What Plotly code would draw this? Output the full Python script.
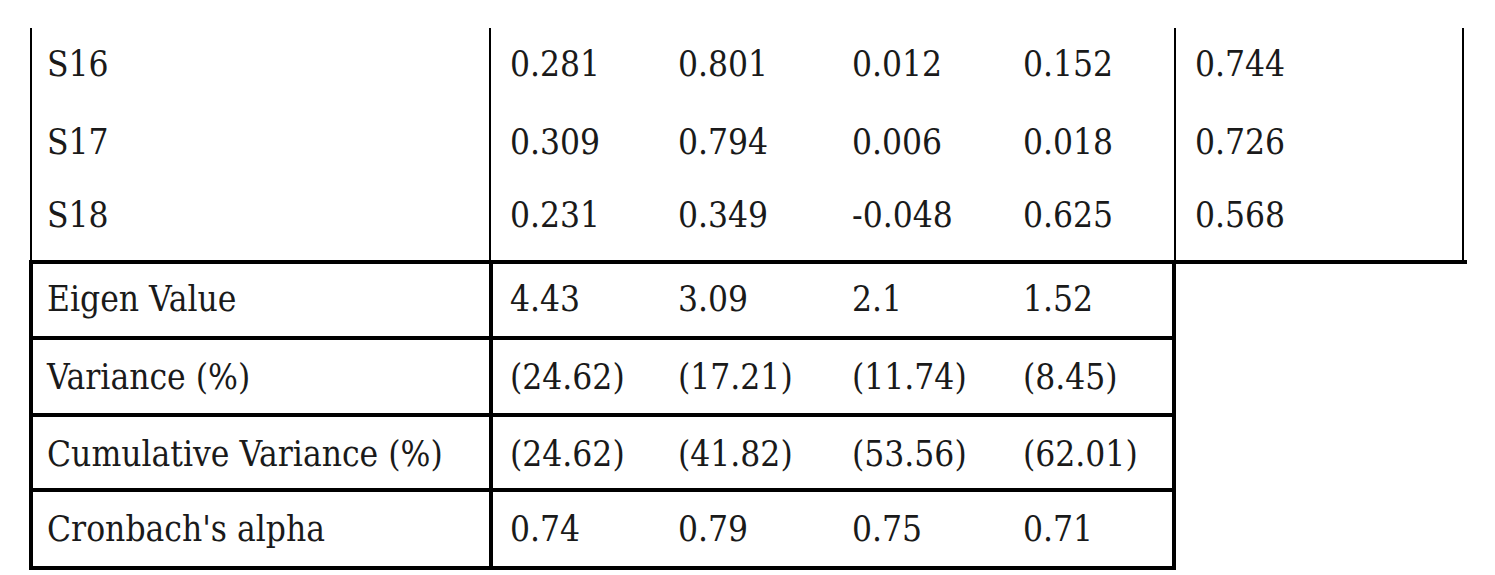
import plotly.graph_objects as go

# table content
row_labels = ["S16", "S17", "S18", "Eigen Value", "Variance (%)",
              "Cumulative Variance (%)", "Cronbach's alpha"]
factor1 = ["0.281", "0.309", "0.231", "4.43", "(24.62)", "(24.62)", "0.74"]
factor2 = ["0.801", "0.794", "0.349", "3.09", "(17.21)", "(41.82)", "0.79"]
factor3 = ["0.012", "0.006", "-0.048", "2.1", "(11.74)", "(53.56)", "0.75"]
factor4 = ["0.152", "0.018", "0.625", "1.52", "(8.45)", "(62.01)", "0.71"]
communality = ["0.744", "0.726", "0.568", "", "", "", ""]

columns = [row_labels, factor1, factor2, factor3, factor4, communality]

# layout in pixel space
col_x = [47, 510, 678, 852, 1023, 1195]
row_y = [67, 145, 218, 302, 380, 457, 532]

fig = go.Figure()
xs, ys, texts = [], [], []
for ci, col in enumerate(columns):
    for ri, val in enumerate(col):
        if val:
            xs.append(col_x[ci])
            ys.append(row_y[ri])
            texts.append(val)

fig.add_trace(go.Scatter(
    x=xs, y=ys, text=texts, mode="text", textposition="middle right",
    textfont=dict(family="DejaVu Serif Condensed, Liberation Serif", size=35, color="#1a1a1a"),
    hoverinfo="skip", showlegend=False,
))

thin = dict(color="black", width=2)
thick = dict(color="black", width=4)
shapes = [
    # top section verticals
    dict(type="line", x0=31, x1=31, y0=28, y1=262, line=thin),
    dict(type="line", x0=490, x1=490, y0=28, y1=262, line=thin),
    dict(type="line", x0=1175, x1=1175, y0=28, y1=262, line=thin),
    dict(type="line", x0=1463, x1=1463, y0=28, y1=262, line=thin),
    dict(type="line", x0=29, x1=1467, y0=262, y1=262, line=thick),
    # bottom section
    dict(type="line", x0=31, x1=31, y0=262, y1=570, line=thick),
    dict(type="line", x0=491, x1=491, y0=262, y1=570, line=thick),
    dict(type="line", x0=1174, x1=1174, y0=262, y1=570, line=thick),
]
for yy in [338, 415, 490, 568]:
    shapes.append(dict(type="line", x0=29, x1=1176, y0=yy, y1=yy, line=thick))

# page body has an 8px margin, so shift the coordinate window to compensate
fig.update_layout(
    width=1495, height=575,
    margin=dict(l=0, r=0, t=0, b=0),
    paper_bgcolor="white", plot_bgcolor="white",
    xaxis=dict(range=[8, 1503], visible=False, fixedrange=True),
    yaxis=dict(range=[583, 8], visible=False, fixedrange=True),
    shapes=shapes,
)

fig.write_html("out.html")
